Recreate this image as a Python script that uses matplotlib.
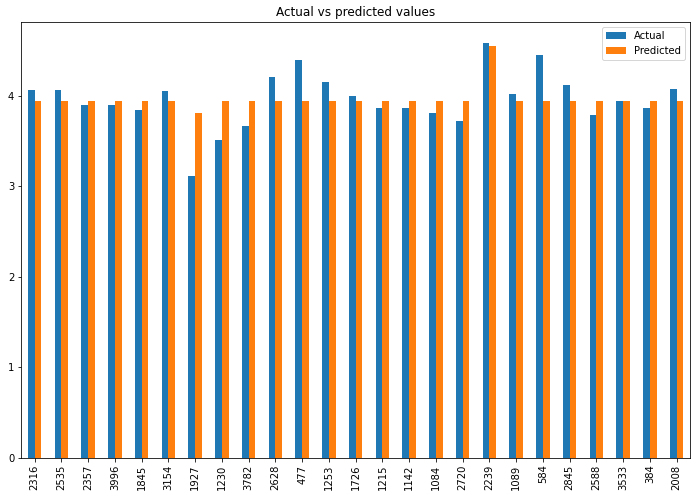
import matplotlib
matplotlib.use("Agg")
import matplotlib.pyplot as plt
import pandas as pd

ids = ["2316", "2535", "2357", "3996", "1845", "3154", "1927", "1230", "3782",
       "2628", "477", "1253", "1726", "1215", "1142", "1084", "2720", "2239",
       "1089", "584", "2845", "2588", "3533", "384", "2008"]
actual = [4.065, 4.065, 3.90, 3.90, 3.844, 4.054, 3.114, 3.512, 3.667,
          4.209, 4.397, 4.153, 4.0, 3.866, 3.866, 3.811, 3.722, 4.585,
          4.021, 4.452, 4.12, 3.788, 3.944, 3.866, 4.076]
predicted = [3.944, 3.944, 3.944, 3.944, 3.944, 3.944, 3.811, 3.944, 3.944,
             3.944, 3.944, 3.944, 3.944, 3.944, 3.944, 3.944, 3.944, 4.552,
             3.944, 3.944, 3.944, 3.944, 3.944, 3.944, 3.944]

df = pd.DataFrame({"Actual": actual, "Predicted": predicted}, index=ids)

dpi = 72
fig = plt.figure(figsize=(697 / dpi, 497 / dpi), dpi=dpi)
ax = fig.add_axes([21.3 / 697, (497 - 457.5) / 497, (690 - 21.3) / 697, (457.5 - 22.3) / 497])
df.plot(kind="bar", ax=ax, color=["#1f77b4", "#ff7f0e"])
ax.set_ylim(0, 4.814)
ax.set_title("Actual vs predicted values", fontsize=12)
ax.tick_params(labelsize=10)
ax.legend(loc="upper right", fontsize=10)
fig.savefig("out.png", dpi=dpi)
